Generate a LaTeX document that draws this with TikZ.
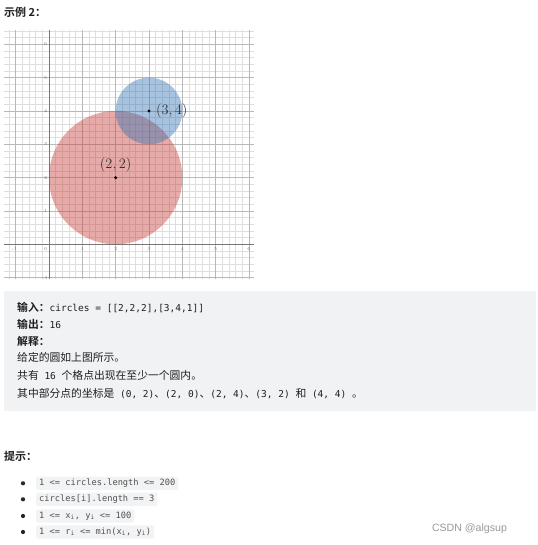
\documentclass[tikz,border=0pt]{standalone}
\usepackage{fontspec}
\setmonofont{DejaVu Sans Mono}
\newfontfamily\cjkfont{Noto Sans CJK SC}[BoldFont={Noto Sans CJK SC Bold}]
\newfontfamily\markfont{Liberation Sans}
\usetikzlibrary{positioning}

\definecolor{minorgrid}{HTML}{DEDEDE}
\definecolor{majorgrid}{HTML}{B8B8B8}
\definecolor{axisline}{HTML}{777777}
\definecolor{redcircle}{HTML}{C74440}
\definecolor{bluecircle}{HTML}{2D70B3}
\definecolor{boxbg}{HTML}{F1F2F4}
\definecolor{codebg}{HTML}{F2F3F5}
\definecolor{textdark}{HTML}{1E1E1E}
\definecolor{codetext}{HTML}{505050}

\newcommand{\zhtxt}[1]{{\cjkfont\fontsize{10.8}{13}\selectfont #1}}
\newcommand{\monotxt}[1]{{\ttfamily\fontsize{9.5}{13}\selectfont #1}}

\begin{document}
\begin{tikzpicture}[x=1pt,y=-1pt,
    heading/.style={anchor=west,inner sep=0,text=textdark,
      font=\cjkfont\bfseries\fontsize{11}{13}\selectfont},
    boxline/.style={anchor=west,inner sep=0,text=textdark},
    hintcode/.style={anchor=west,fill=codebg,rounded corners=2pt,text=codetext,
      inner xsep=3pt,inner ysep=0pt,minimum height=13.3pt,
      font=\ttfamily\fontsize{8.7}{10}\selectfont},
    bullet/.style={circle,fill=black!85,inner sep=0,minimum size=4.2pt},
    dot/.style={circle,fill=black,inner sep=0,minimum size=3.4pt},
    ptlabel/.style={inner sep=0,text=black!80,font=\fontsize{14}{14}\selectfont},
    ticklabel/.style={inner sep=0,text=black!55,font=\fontsize{4.5}{5}\selectfont}]

    \useasboundingbox (0,0) rectangle (537,545);

    \node[heading] (title) at (4,12) {示例 2：};

    \begin{scope}[shift={(49,244.3)},x=33.33pt,y=33.33pt]
        \begin{scope}
            \clip (-1.35,-1.05) rectangle (6.15,6.43);
            \foreach \i in {-7,...,31}
                \draw[minorgrid,line width=0.7pt] (\i/5,-1.05) -- (\i/5,6.43);
            \foreach \j in {-6,...,33}
                \draw[minorgrid,line width=0.7pt] (-1.35,\j/5) -- (6.15,\j/5);
            \foreach \k in {-1,...,6}
                \draw[majorgrid,line width=0.9pt] (\k,-1.05) -- (\k,6.43) (-1.35,\k) -- (6.15,\k);
            \draw[axisline,line width=1pt] (0,-1.05) -- (0,6.43) (-1.35,0) -- (6.15,0);
        \end{scope}

        \foreach \k in {1,...,6}
            \node[ticklabel] (xt\k) at (\k,-0.14) {\k};
        \node[ticklabel] (xtm1) at (-1.04,-0.14) {-1};
        \node[ticklabel] (xt0) at (-0.1,-0.14) {0};
        \foreach \k in {1,...,6}
            \node[ticklabel] (yt\k) at (-0.1,\k) {\k};
        \node[ticklabel] (ytm1) at (-0.12,-1) {-1};

        \fill[redcircle,fill opacity=0.45] (2,2) circle (2);
        \fill[bluecircle,fill opacity=0.42] (3,4) circle (1);

        \node[dot] (c1) at (2,2) {};
        \node[dot] (c2) at (3,4) {};
        \node[ptlabel,above=3pt of c1] (c1lab) {$(2,2)$};
        \node[ptlabel,right=5pt of c2] (c2lab) {$(3,4)$};
    \end{scope}

    \fill[boxbg,rounded corners=2pt] (4,291) rectangle (536,411);

    \node[boxline] (input) at (17,307.7) {\zhtxt{\bfseries 输入：}\monotxt{circles = [[2,2,2],[3,4,1]]}};
    \node[boxline] (output) at (17,324.3) {\zhtxt{\bfseries 输出：}\monotxt{16}};
    \node[boxline] (explain) at (17,341) {\zhtxt{\bfseries 解释：}};
    \node[boxline] (line1) at (17,357.5) {\zhtxt{给定的圆如上图所示。}};
    \node[boxline] (line2) at (17,375) {\zhtxt{共有}\monotxt{ 16 }\zhtxt{个格点出现在至少一个圆内。}};
    \node[boxline] (line3) at (17,393.3) {\zhtxt{其中部分点的坐标是}\monotxt{ (0, 2)}\zhtxt{、}\monotxt{(2, 0)}\zhtxt{、}\monotxt{(2, 4)}\zhtxt{、}\monotxt{(3, 2) }\zhtxt{和}\monotxt{ (4, 4) }\zhtxt{。}};

    \node[heading] (hints) at (4,456.7) {提示：};

    \node[bullet] (b1) at (23,483.3) {};
    \node[bullet] (b2) at (23,499.3) {};
    \node[bullet] (b3) at (23,516) {};
    \node[bullet] (b4) at (23,532) {};

    \node[hintcode] (h1) at (36,483.3) {1 <= circles.length <= 200};
    \node[hintcode] (h2) at (36,499.3) {circles[i].length == 3};
    \node[hintcode] (h3) at (36,516) {1 <= x\textsubscript{i}, y\textsubscript{i} <= 100};
    \node[hintcode] (h4) at (36,532) {1 <= r\textsubscript{i} <= min(x\textsubscript{i}, y\textsubscript{i})};

    \node[text=black!40,inner sep=0,font=\markfont\fontsize{10.6}{12}\selectfont] (mark) at (469.5,529) {CSDN @algsup};

\end{tikzpicture}
\end{document}
